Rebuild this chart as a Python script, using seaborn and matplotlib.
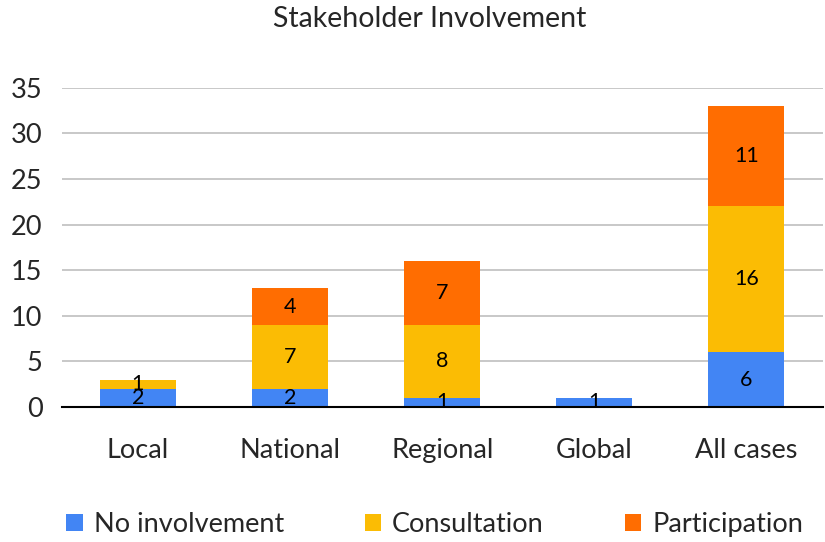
import matplotlib
matplotlib.use("Agg")
import matplotlib.pyplot as plt
import numpy as np
import pandas as pd
import seaborn as sns
from matplotlib.patches import Patch
from matplotlib.ticker import FixedLocator

categories = ["Local", "National", "Regional", "Global", "All cases"]
series_names = ["No involvement", "Consultation", "Participation"]
no_involvement = [2, 2, 1, 1, 6]
consultation = [1, 7, 8, 0, 16]
participation = [0, 4, 7, 0, 11]
y_ticks = [0, 5, 10, 15, 20, 25, 30, 35]

colors = ["#4285F4", "#FBBC04", "#FF6D01"]

sns.set_theme(style="white")
plt.rcParams["font.family"] = ["Lato", "DejaVu Sans"]

values = np.array([no_involvement, consultation, participation])
tops = values.cumsum(axis=0)
bottoms = tops - values

fig = plt.figure(figsize=(8.25, 5.42), dpi=100)
ax = fig.add_axes([0.075, 0.249, 0.922, 0.589])

# overlapping bars drawn from the total downwards to get a stacked look
for i in reversed(range(len(series_names))):
    df = pd.DataFrame({"category": categories, "value": tops[i]})
    sns.barplot(data=df, x="category", y="value", color=colors[i],
                width=0.5, saturation=1, linewidth=0, edgecolor="none",
                ax=ax, zorder=3)

for i in range(len(series_names)):
    for j, cat in enumerate(categories):
        if values[i, j] > 0:
            ax.text(j, bottoms[i, j] + values[i, j] / 2, str(values[i, j]),
                    ha="center", va="center", fontsize=15.5, color="black", zorder=4)

ax.set_xlim(-0.5, len(categories) - 0.5)
ax.set_ylim(0, 35)
ax.set_yticks(y_ticks)
ax.yaxis.grid(True, color="#BFBFBF", linewidth=1.2, zorder=0)
ax.set_xlabel("")
ax.set_ylabel("")
ax.set_title("Stakeholder Involvement", fontsize=20.5, pad=44, x=0.484)

for side in ["top", "right", "left"]:
    ax.spines[side].set_visible(False)
ax.spines["bottom"].set_color("black")
ax.spines["bottom"].set_linewidth(1.5)
ax.spines["bottom"].set_zorder(5)

ax.xaxis.set_minor_locator(FixedLocator(np.arange(-0.5, len(categories), 1.0)))
ax.tick_params(axis="x", which="major", direction="inout", length=10, width=1.5,
               color="black", labelsize=19.5, pad=17)
ax.tick_params(axis="x", which="minor", direction="inout", length=14, width=1.5,
               color="black")
ax.tick_params(axis="y", length=0, labelsize=19.5, pad=14)

handles = [Patch(facecolor=c, edgecolor="none") for c in colors]
fig.legend(handles, series_names, loc="lower center", bbox_to_anchor=(0.527, -0.036),
           ncol=3, frameon=False, fontsize=19.5, handlelength=0.6, handleheight=0.6,
           handletextpad=0.4, columnspacing=3.0)

fig.savefig("out.png", dpi=100)
